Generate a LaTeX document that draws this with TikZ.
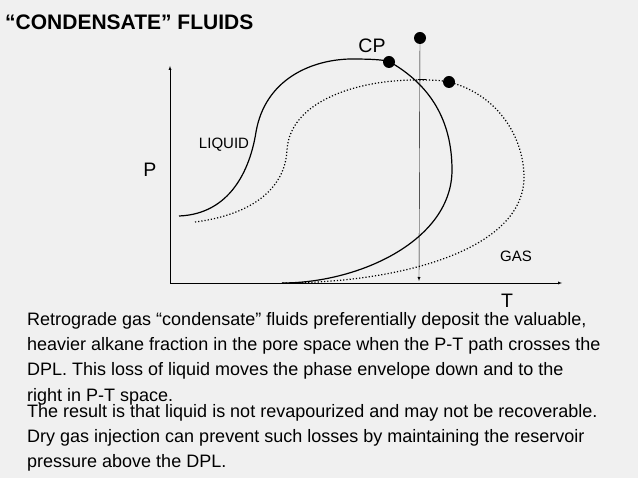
\documentclass[tikz,border=0pt]{standalone}
\usepackage{fontspec}
\setmainfont{Liberation Sans}
\begin{document}
\begin{tikzpicture}[x=1pt,y=-1pt,
  lbl/.style={font=\fontsize{15}{17}\selectfont,inner sep=0},
  big/.style={font=\fontsize{19.5}{22}\selectfont,inner sep=0},
  para/.style={anchor=north west,align=left,inner sep=0,font=\fontsize{18}{23}\selectfont},
  dot/.style={circle,fill=black,inner sep=0,minimum size=12pt}]
\fill[gray!12] (0,0) rectangle (638,478);
\useasboundingbox (0,0) rectangle (638,478);
\node[anchor=west,inner sep=0,font=\bfseries\fontsize{21}{23}\selectfont] (title) at (5,22) {“CONDENSATE” FLUIDS};
\coordinate (o) at (170,283);
\coordinate (ytop) at (170,66);
\coordinate (xend) at (562,283);
\draw[-latex,thin] (o) -- (ytop);
\draw[-latex,thin] (o) -- (xend);
% solid envelope
\draw[line width=1.2pt] (179,216) .. controls (230,214) and (250,170) .. (256,132)
  .. controls (265,80) and (310,60) .. (350,59) .. controls (375,59) and (385,60) .. (390,62)
  .. controls (430,85) and (452,120) .. (452,170)
  .. controls (452,240) and (360,283) .. (282,283);
% dotted envelope
\draw[line width=1.2pt,dotted] (195,222) .. controls (250,215) and (285,190) .. (287,150)
  .. controls (290,100) and (360,80) .. (415,80) .. controls (430,80) and (440,80) .. (449,82)
  .. controls (500,95) and (524,140) .. (524,177)
  .. controls (524,250) and (400,283) .. (282,283);
\node[dot] (d1) at (420,38) {};
\node[dot] (cp) at (389,62) {};
\node[dot] (d2) at (449,82) {};
\coordinate (pend) at (419,281);
\draw[thin,-latex] (d1) -- (pend);
\draw[thin] (418,79) -- (426,79);
\node[big] (cpl) at (372,46) {CP};
\node[lbl] (liq) at (224,145) {LIQUID};
\node[big] (p) at (150,170) {P};
\node[lbl] (gas) at (516,256) {GAS};
\node[big] (t) at (507,301) {T};
\node[para] (t1) at (27,312) {Retrograde gas “condensate” fluids preferentially deposit the valuable,\\[2.3pt]heavier alkane fraction in the pore space when the P-T path crosses the\\[2.3pt]DPL. This loss of liquid moves the phase envelope down and to the\\[2.3pt]right in P-T space.};
\node[para] (t2) at (27,404) {The result is that liquid is not revapourized and may not be recoverable.\\[2.3pt]Dry gas injection can prevent such losses by maintaining the reservoir\\[2.3pt]pressure above the DPL.};
\end{tikzpicture}
\end{document}
